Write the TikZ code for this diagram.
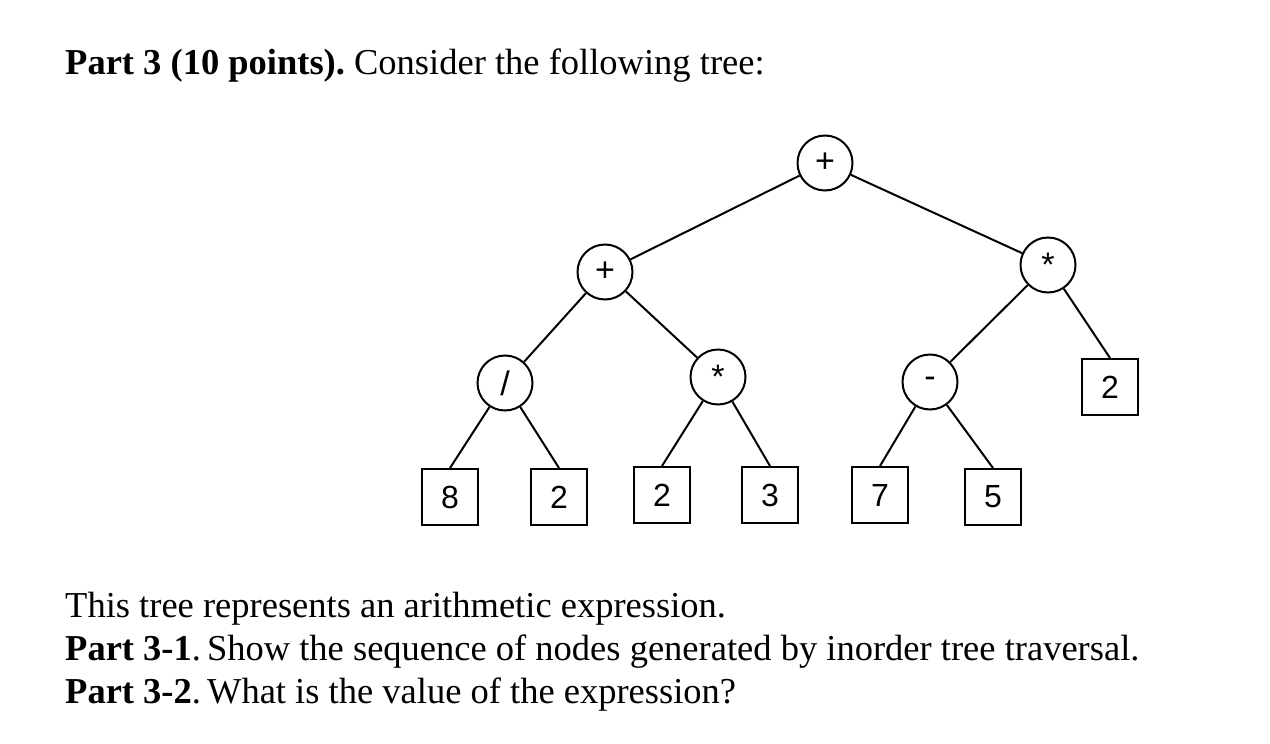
\documentclass[tikz,border=0pt]{standalone}
\usepackage{fontspec}
\setmainfont{Liberation Serif}
\newfontfamily\boxfont{Liberation Sans}
\begin{document}
\begin{tikzpicture}[x=1pt,y=-1pt,
  op/.style={circle,draw,line width=2pt,minimum size=55pt,inner sep=0pt,font=\boxfont\fontsize{34}{36}\selectfont},
  leaf/.style={rectangle,draw,line width=2pt,minimum width=56pt,minimum height=56pt,inner sep=0pt,font=\boxfont\fontsize{32}{34}\selectfont},
  edge/.style={line width=2pt},
  txt/.style={anchor=base west,inner sep=0pt,font=\fontsize{36.5}{42}\selectfont}]
\useasboundingbox (0,0) rectangle (1270,744);
\node[txt] (t0) at (65,74) {\textbf{Part 3 (10 points).}~Consider the following tree:};
\node[op] (r) at (825,163) {+};
\node[op] (a) at (605,272) {+};
\node[op] (b) at (1048,265) {*};
\node[op] (c) at (505,383) {/};
\node[op] (d) at (718,377) {*};
\node[op] (e) at (930,382) {-};
\node[leaf] (l7) at (1110,387) {2};
\node[leaf] (l1) at (450,497) {8};
\node[leaf] (l2) at (559,497) {2};
\node[leaf] (l3) at (662,495) {2};
\node[leaf] (l4) at (770,495) {3};
\node[leaf] (l5) at (880,495) {7};
\node[leaf] (l6) at (993,497) {5};
\draw[edge] (r)--(a); \draw[edge] (r)--(b);
\draw[edge] (a)--(c); \draw[edge] (a)--(d);
\draw[edge] (b)--(e); \draw[edge] (b)--(l7.north);
\draw[edge] (c)--(l1.north); \draw[edge] (c)--(l2.north);
\draw[edge] (d)--(l3.north); \draw[edge] (d)--(l4.north);
\draw[edge] (e)--(l5.north); \draw[edge] (e)--(l6.north);
\node[txt] (t1) at (65,617) {This tree represents an arithmetic expression.};
\node[txt] (t2) at (65,660) {\textbf{Part 3-1}.\,Show the sequence of nodes generated by inorder tree traversal.};
\node[txt] (t3) at (65,703) {\textbf{Part 3-2}.\,What is the value of the expression?};
\end{tikzpicture}
\end{document}
